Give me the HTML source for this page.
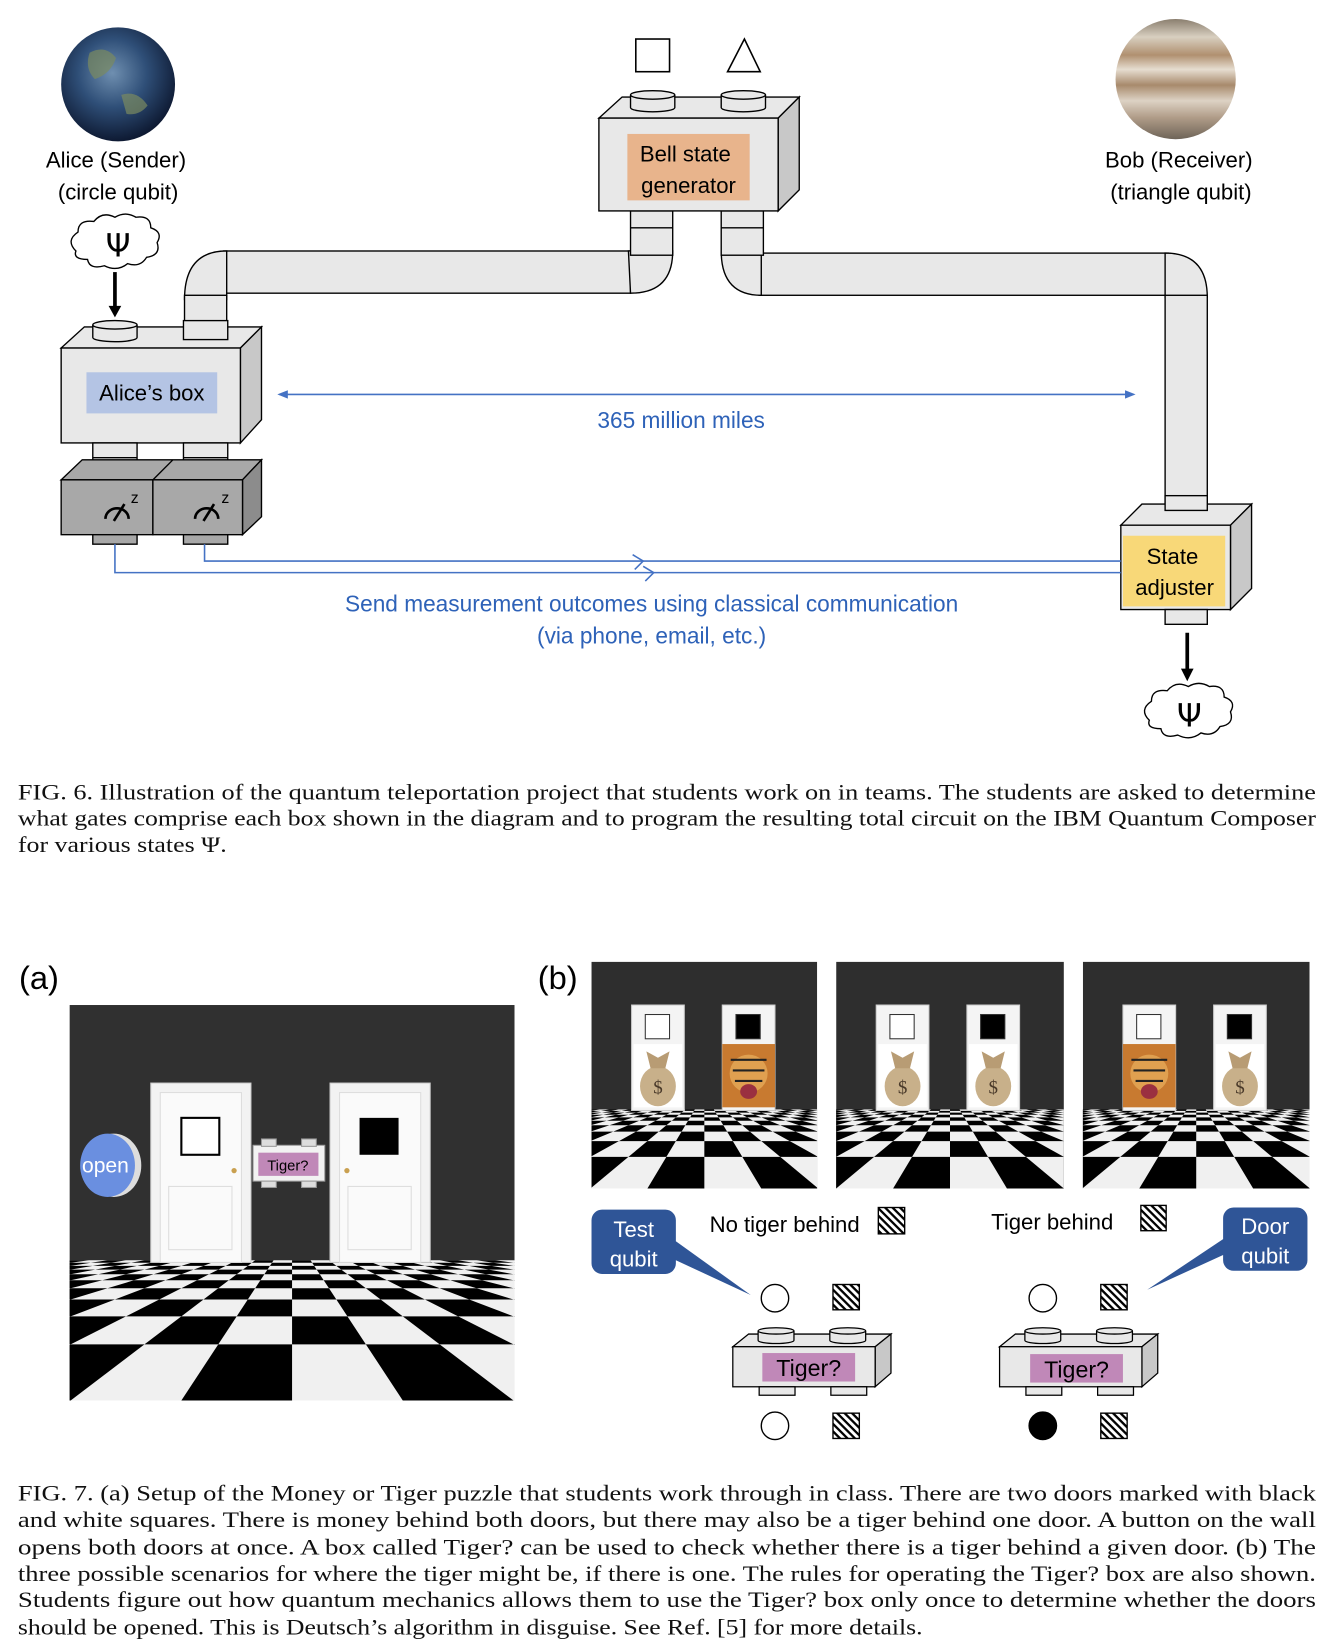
<!DOCTYPE html>
<html><head><meta charset="utf-8"><style>
html,body{margin:0;padding:0;background:#fff;width:1318px;height:1642px;overflow:hidden;}
svg{display:block;}
.s{font-family:"Liberation Sans",sans-serif;}
.r{font-family:"Liberation Serif",serif;font-size:21px;fill:#111;}
</style></head><body>
<svg id="sv" width="1318" height="1642" viewBox="0 0 1250 1557" preserveAspectRatio="none" xmlns="http://www.w3.org/2000/svg">
<defs>
<radialGradient id="earth" cx="0.45" cy="0.4" r="0.6"><stop offset="0" stop-color="#6f8fb0"/><stop offset="0.5" stop-color="#2f4f78"/><stop offset="1" stop-color="#0e1a33"/></radialGradient>
<linearGradient id="jup" x1="0" y1="0" x2="0" y2="1">
<stop offset="0" stop-color="#8a7e6e"/><stop offset="0.15" stop-color="#d8cfc0"/><stop offset="0.3" stop-color="#b09070"/><stop offset="0.42" stop-color="#e6ddd0"/><stop offset="0.55" stop-color="#a88a6c"/><stop offset="0.68" stop-color="#ddd2c4"/><stop offset="0.82" stop-color="#b09c88"/><stop offset="1" stop-color="#6e6458"/></linearGradient>
<pattern id="hatch" width="5" height="5" patternUnits="userSpaceOnUse" patternTransform="rotate(45)"><rect width="5" height="5" fill="#fff"/><rect width="5" height="2.2" fill="#000"/></pattern>
<clipPath id="ca"><rect x="66" y="953" width="422" height="375"/></clipPath>
<clipPath id="c1"><rect x="561" y="912" width="214" height="215"/></clipPath>
<clipPath id="c2"><rect x="793" y="912" width="216" height="215"/></clipPath>
<clipPath id="c3"><rect x="1027" y="912" width="215" height="215"/></clipPath>
</defs>

<circle cx="112" cy="80" r="54" fill="url(#earth)"/>
<path d="M85,50 q15,-8 25,5 q-5,15 -20,20 q-10,-10 -5,-25z M115,90 q15,-5 25,10 q-8,10 -20,8z" fill="#7a8a60" opacity="0.7"/>
<ellipse cx="1115" cy="75" rx="57" ry="57" fill="url(#jup)"/>
<g class="s" font-size="21" fill="#000" text-anchor="middle">
<text x="110" y="159">Alice (Sender)</text><text x="112" y="189">(circle qubit)</text>
<text x="1118" y="159">Bob (Receiver)</text><text x="1120" y="189">(triangle qubit)</text>
</g>
<rect x="603" y="37" width="32" height="31" fill="#fff" stroke="#000" stroke-width="1.5"/>
<polygon points="706,37 721,68 690,68" fill="#fff" stroke="#000" stroke-width="1.5"/>

<g fill="#e8e8e8" stroke="#000" stroke-width="1.3">
<rect x="212" y="238" width="386" height="40"/>
<path d="M175,284 Q175,238 215,238 L215,284 Z"/>
<rect x="175" y="280" width="40" height="32"/>
<path d="M596,238 L598,238 L638,238 Q638,278 598,278 Z"/>
<rect x="720" y="240" width="388" height="40"/>
<path d="M684,238 L722,238 L722,280 Q684,280 684,238 Z"/>
<path d="M1105,240 Q1145,240 1145,282 L1105,282 Z"/>
<rect x="1105" y="280" width="40" height="200"/>
<rect x="598" y="200" width="40" height="42"/><line x1="598" y1="216" x2="638" y2="216"/>
<rect x="684" y="200" width="40" height="42"/><line x1="684" y1="216" x2="724" y2="216"/>
<polygon points="568,112 590,92 758,92 738,112"/>
<polygon points="738,112 758,92 758,180 738,200" fill="#c8c8c8"/>
<rect x="568" y="112" width="170" height="88"/>
<path d="M598,90 v12 a21,4 0 0 0 42,0 v-12"/><ellipse cx="619" cy="90" rx="21" ry="4"/>
<path d="M684,90 v12 a21,4 0 0 0 42,0 v-12"/><ellipse cx="705" cy="90" rx="21" ry="4"/>
<polygon points="58,330 80,310 248,310 228,330"/>
<polygon points="228,330 248,310 248,398 228,420" fill="#c8c8c8"/>
<rect x="58" y="330" width="170" height="90"/>
<path d="M88,308 v12 a21,4 0 0 0 42,0 v-12"/><ellipse cx="109" cy="308" rx="21" ry="4"/>
<rect x="174" y="304" width="42" height="18"/>
<rect x="88" y="420" width="42" height="28"/><rect x="174" y="420" width="42" height="28"/>
<line x1="88" y1="434" x2="130" y2="434"/><line x1="174" y1="434" x2="216" y2="434"/>
</g>
<rect x="595" y="127" width="116" height="63" fill="#e8b48c"/>
<rect x="82" y="353" width="124" height="39" fill="#b4c4e4"/>
<g class="s" font-size="21" fill="#000" text-anchor="middle">
<text x="650" y="153">Bell state</text><text x="653" y="183">generator</text>
<text x="144" y="380">Alice’s box</text>
</g>
<g stroke="#000" stroke-width="1.3">
<polygon points="58,455 78,436 248,436 230,455" fill="#a8a8a8"/>
<line x1="145" y1="455" x2="164" y2="436"/>
<polygon points="230,455 248,436 248,490 230,507" fill="#8c8c8c"/>
<rect x="58" y="455" width="87" height="52" fill="#a8a8a8"/>
<rect x="145" y="455" width="85" height="52" fill="#a8a8a8"/>
<rect x="88" y="507" width="42" height="9" fill="#a8a8a8"/><rect x="174" y="507" width="42" height="9" fill="#a8a8a8"/>
</g>
<g fill="none" stroke="#000" stroke-width="2.5">
<path d="M100,492 a11,10 0 0 1 22,0"/><line x1="108" y1="494" x2="118" y2="478"/>
<path d="M185,492 a11,10 0 0 1 22,0"/><line x1="193" y1="494" x2="203" y2="478"/>
</g>
<g class="s" font-size="15" fill="#000"><text x="124" y="477">z</text><text x="210" y="477">z</text></g>

<g stroke="#000" stroke-width="1.3" fill="#e8e8e8">
<polygon points="1063,498 1083,478 1187,478 1167,498"/>
<polygon points="1167,498 1187,478 1187,558 1167,578" fill="#c8c8c8"/>
<rect x="1063" y="498" width="104" height="80"/>
<rect x="1105" y="470" width="40" height="14"/>
<rect x="1105" y="578" width="40" height="14"/>
</g>
<rect x="1065" y="508" width="97" height="67" fill="#f8d878"/>
<g class="s" font-size="21" fill="#000" text-anchor="middle"><text x="1112" y="535">State</text><text x="1114" y="564">adjuster</text></g>

<g stroke="#000" stroke-width="3.5"><line x1="109" y1="258" x2="109" y2="292"/><line x1="1126" y1="600" x2="1126" y2="636"/></g>
<polygon points="103,290 115,290 109,301" fill="#000"/>
<polygon points="1120,634 1132,634 1126,646" fill="#000"/>
<g fill="#fff" stroke="#000" stroke-width="1.3">
<path d="M72,238 q-10,-10 2,-18 q0,-12 15,-10 q8,-10 20,-4 q10,-6 20,0 q14,-2 14,10 q12,4 6,14 q4,12 -10,14 q-6,10 -18,6 q-10,8 -22,2 q-14,4 -16,-6 q-14,0 -11,-8z"/>
<path d="M1090,683 q-10,-10 2,-18 q0,-12 15,-10 q8,-10 20,-4 q10,-6 20,0 q14,-2 14,10 q12,4 6,14 q4,12 -10,14 q-6,10 -18,6 q-10,8 -22,2 q-14,4 -16,-6 q-14,0 -11,-8z"/>
</g>
<g font-family="'DejaVu Sans',sans-serif" font-size="30" fill="#000" text-anchor="middle"><text x="112" y="243">Ψ</text><text x="1128" y="689">Ψ</text></g>

<g stroke="#4472c4" stroke-width="1.5" fill="none">
<line x1="265" y1="374" x2="1075" y2="374"/>
<polyline points="109,516 109,543 1063,543"/>
<polyline points="194,516 194,532 1063,532"/>
<polyline points="600,526 610,532 602,540"/><polyline points="610,537 620,543 612,551"/>
</g>
<polygon points="263,374 273,370 273,378" fill="#4472c4"/><polygon points="1077,374 1067,370 1067,378" fill="#4472c4"/>
<g class="s" font-size="21.5" fill="#2e62b8" text-anchor="middle">
<text x="646" y="406">365 million miles</text>
<text x="618" y="580">Send measurement outcomes using classical communication</text>
<text x="618" y="610">(via phone, email, etc.)</text>
</g>

<text class="r" x="17" y="758" textLength="1231" lengthAdjust="spacingAndGlyphs">FIG. 6. Illustration of the quantum teleportation project that students work on in teams. The students are asked to determine</text>
<text class="r" x="17" y="783" textLength="1231" lengthAdjust="spacingAndGlyphs">what gates comprise each box shown in the diagram and to program the resulting total circuit on the IBM Quantum Composer</text>
<text class="r" x="17" y="808" textLength="198" lengthAdjust="spacingAndGlyphs">for various states Ψ.</text>

<g class="s" font-size="31" fill="#000"><text x="18" y="938">(a)</text><text x="510" y="938">(b)</text></g>

<g clip-path="url(#ca)">
<rect x="66" y="953" width="422" height="375" fill="#303030"/>
<g id="floorA"></g>
<rect x="143" y="1027" width="95" height="170" fill="#f2f2f2" stroke="#ccc"/>
<rect x="313" y="1027" width="95" height="170" fill="#f2f2f2" stroke="#ccc"/>
<rect x="152" y="1036" width="77" height="161" fill="#fafafa" stroke="#ddd"/>
<rect x="322" y="1036" width="77" height="161" fill="#fafafa" stroke="#ddd"/>
<rect x="160" y="1125" width="60" height="60" fill="none" stroke="#ddd"/>
<rect x="330" y="1125" width="60" height="60" fill="none" stroke="#ddd"/>
<rect x="172" y="1060" width="36" height="35" fill="#fff" stroke="#000" stroke-width="2"/>
<rect x="341" y="1060" width="37" height="35" fill="#000"/>
<circle cx="222" cy="1110" r="2.5" fill="#c9a050"/><circle cx="329" cy="1110" r="2.5" fill="#c9a050"/>
<ellipse cx="108" cy="1105" rx="26" ry="30" fill="#ddd"/>
<ellipse cx="102" cy="1105" rx="26" ry="30" fill="#6a8fe0"/>
<text class="s" x="100" y="1112" font-size="20" fill="#fff" text-anchor="middle">open</text>
<rect x="240" y="1086" width="68" height="34" fill="#f2f2f2" stroke="#999"/>
<rect x="248" y="1080" width="14" height="7" fill="#ddd" stroke="#999"/><rect x="286" y="1080" width="14" height="7" fill="#ddd" stroke="#999"/>
<rect x="248" y="1120" width="14" height="6" fill="#ddd" stroke="#999"/><rect x="286" y="1120" width="14" height="6" fill="#ddd" stroke="#999"/>
<rect x="245" y="1093" width="57" height="22" fill="#c088b8"/>
<text class="s" x="273" y="1110" font-size="14" fill="#000" text-anchor="middle">Tiger?</text>
</g>

<g id="panels"></g>

<path d="M571,1147 h60 a10,10 0 0 1 10,10 v20 L712,1228 L641,1195 v3 a10,10 0 0 1 -10,10 h-60 a10,10 0 0 1 -10,-10 v-41 a10,10 0 0 1 10,-10z" fill="#2f5597"/>
<path d="M1170,1145 h60 a10,10 0 0 1 10,10 v40 a10,10 0 0 1 -10,10 h-60 a10,10 0 0 1 -10,-10 v-5 L1088,1223 L1160,1175 v-20 a10,10 0 0 1 10,-10z" fill="#2f5597"/>
<g class="s" font-size="21" fill="#fff" text-anchor="middle">
<text x="601" y="1173">Test</text><text x="601" y="1201">qubit</text>
<text x="1200" y="1170">Door</text><text x="1200" y="1198">qubit</text>
</g>
<g class="s" font-size="21" fill="#000"><text x="673" y="1168">No tiger behind</text><text x="940" y="1166">Tiger behind</text></g>
<g stroke="#000" stroke-width="1.3">
<rect x="833" y="1145" width="25" height="25" fill="url(#hatch)"/>
<rect x="1082" y="1143" width="24" height="24" fill="url(#hatch)"/>
<rect x="790" y="1218" width="25" height="24" fill="url(#hatch)"/>
<rect x="1044" y="1218" width="25" height="24" fill="url(#hatch)"/>
<rect x="790" y="1340" width="25" height="24" fill="url(#hatch)"/>
<rect x="1044" y="1340" width="25" height="24" fill="url(#hatch)"/>
<circle cx="735" cy="1231" r="13" fill="#fff"/><circle cx="989" cy="1231" r="13" fill="#fff"/>
<circle cx="735" cy="1352" r="13" fill="#fff"/><circle cx="989" cy="1352" r="13" fill="#000"/>
</g>
<g stroke="#000" stroke-width="1.2" fill="#e8e8e8">
<polygon points="695,1277 710,1265 845,1265 830,1277"/>
<polygon points="830,1277 845,1265 845,1302 830,1315" fill="#c8c8c8"/>
<rect x="695" y="1277" width="135" height="38"/>
<path d="M719,1262 v9 a17,3 0 0 0 34,0 v-9"/><ellipse cx="736" cy="1262" rx="17" ry="3"/>
<path d="M787,1262 v9 a17,3 0 0 0 34,0 v-9"/><ellipse cx="804" cy="1262" rx="17" ry="3"/>
<rect x="720" y="1315" width="34" height="8"/><rect x="788" y="1315" width="34" height="8"/>
<polygon points="948,1277 963,1265 1098,1265 1083,1277"/>
<polygon points="1083,1277 1098,1265 1098,1302 1083,1315" fill="#c8c8c8"/>
<rect x="948" y="1277" width="135" height="38"/>
<path d="M972,1262 v9 a17,3 0 0 0 34,0 v-9"/><ellipse cx="989" cy="1262" rx="17" ry="3"/>
<path d="M1040,1262 v9 a17,3 0 0 0 34,0 v-9"/><ellipse cx="1057" cy="1262" rx="17" ry="3"/>
<rect x="973" y="1315" width="34" height="8"/><rect x="1041" y="1315" width="34" height="8"/>
</g>
<rect x="723" y="1283" width="88" height="27" fill="#c088b8"/>
<rect x="977" y="1284" width="88" height="27" fill="#c088b8"/>
<g class="s" font-size="22" fill="#000" text-anchor="middle"><text x="767" y="1305">Tiger?</text><text x="1021" y="1306">Tiger?</text></g>

<text class="r" x="17" y="1423" textLength="1231" lengthAdjust="spacingAndGlyphs">FIG. 7. (a) Setup of the Money or Tiger puzzle that students work through in class. There are two doors marked with black</text>
<text class="r" x="17" y="1448" textLength="1231" lengthAdjust="spacingAndGlyphs">and white squares. There is money behind both doors, but there may also be a tiger behind one door. A button on the wall</text>
<text class="r" x="17" y="1474" textLength="1231" lengthAdjust="spacingAndGlyphs">opens both doors at once. A box called Tiger? can be used to check whether there is a tiger behind a given door. (b) The</text>
<text class="r" x="17" y="1499" textLength="1231" lengthAdjust="spacingAndGlyphs">three possible scenarios for where the tiger might be, if there is one. The rules for operating the Tiger? box are also shown.</text>
<text class="r" x="17" y="1524" textLength="1231" lengthAdjust="spacingAndGlyphs">Students figure out how quantum mechanics allows them to use the Tiger? box only once to determine whether the doors</text>
<text class="r" x="17" y="1550" textLength="858" lengthAdjust="spacingAndGlyphs">should be opened. This is Deutsch’s algorithm in disguise. See Ref. [5] for more details.</text>
</svg>
<script>
var NS="http://www.w3.org/2000/svg";
function el(p,t,a){var e=document.createElementNS(NS,t);for(var k in a)e.setAttribute(k,a[k]);p.appendChild(e);return e;}
function floor(g,x0,y0,w,h,cx,tw){
  el(g,"rect",{x:x0,y:y0,width:w,height:h,fill:"#f0f0f0"});
  var K=1.2*h, yh=y0-0.2*h;
  for(var j=0;j<14;j++){
    var z1=6-j*0.5, z2=z1-0.5; if(z2<=0.3) z2=0.3;
    var ya=yh+K/z1, yb=yh+K/z2;
    for(var i=-30;i<30;i++){
      if(((i+j)%2+2)%2) continue;
      var xa1=cx+i*tw/z1, xa2=cx+(i+1)*tw/z1, xb1=cx+i*tw/z2, xb2=cx+(i+1)*tw/z2;
      el(g,"polygon",{points:xa1+","+ya+" "+xa2+","+ya+" "+xb2+","+yb+" "+xb1+","+yb,fill:"#000"});
    }
    if(z2<=0.3) break;
  }
}
floor(document.getElementById("floorA"),66,1195,422,133,277,105);
var P=document.getElementById("panels");
var panels=[[561,214,"c1","bag","tiger"],[793,216,"c2","bag","bag"],[1027,215,"c3","tiger","bag"]];
panels.forEach(function(p){
  var g=el(P,"g",{"clip-path":"url(#"+p[2]+")"});
  var x=p[0],w=p[1];
  el(g,"rect",{x:x,y:912,width:w,height:215,fill:"#2e2e2e"});
  var fg=el(g,"g",{}); floor(fg,x,1052,w,75,x+w/2,54);
  [[x+38,p[3],"#fff"],[x+124,p[4],"#000"]].forEach(function(d){
    var dx=d[0];
    el(g,"rect",{x:dx,y:953,width:50,height:100,fill:"#f4f4f4",stroke:"#ccc"});
    el(g,"rect",{x:dx+13,y:962,width:23,height:23,fill:d[2],stroke:"#333","stroke-width":1});
    if(d[1]=="bag"){
      el(g,"rect",{x:dx+2,y:990,width:46,height:60,fill:"#fff"});
      el(g,"ellipse",{cx:dx+25,cy:1030,rx:17,ry:19,fill:"#c8b08a"});
      el(g,"path",{d:"M"+(dx+18)+",1013 l-4,-16 l11,6 l11,-6 l-4,16z",fill:"#b89c74"});
      var t=el(g,"text",{x:dx+25,y:1037,"font-size":"18","text-anchor":"middle",fill:"#4a3a2a","font-family":"Liberation Serif,serif"});t.textContent="$";
    } else {
      el(g,"rect",{x:dx,y:990,width:50,height:60,fill:"#c87a30"});
      el(g,"ellipse",{cx:dx+25,cy:1018,rx:18,ry:18,fill:"#e0a050"});
      el(g,"path",{d:"M"+(dx+8)+",1005 l34,0 M"+(dx+10)+",1015 l30,0 M"+(dx+12)+",1025 l26,0",stroke:"#222","stroke-width":2});
      el(g,"ellipse",{cx:dx+25,cy:1035,rx:8,ry:7,fill:"#9a3040"});
    }
  });
});
</script>
</body></html>
